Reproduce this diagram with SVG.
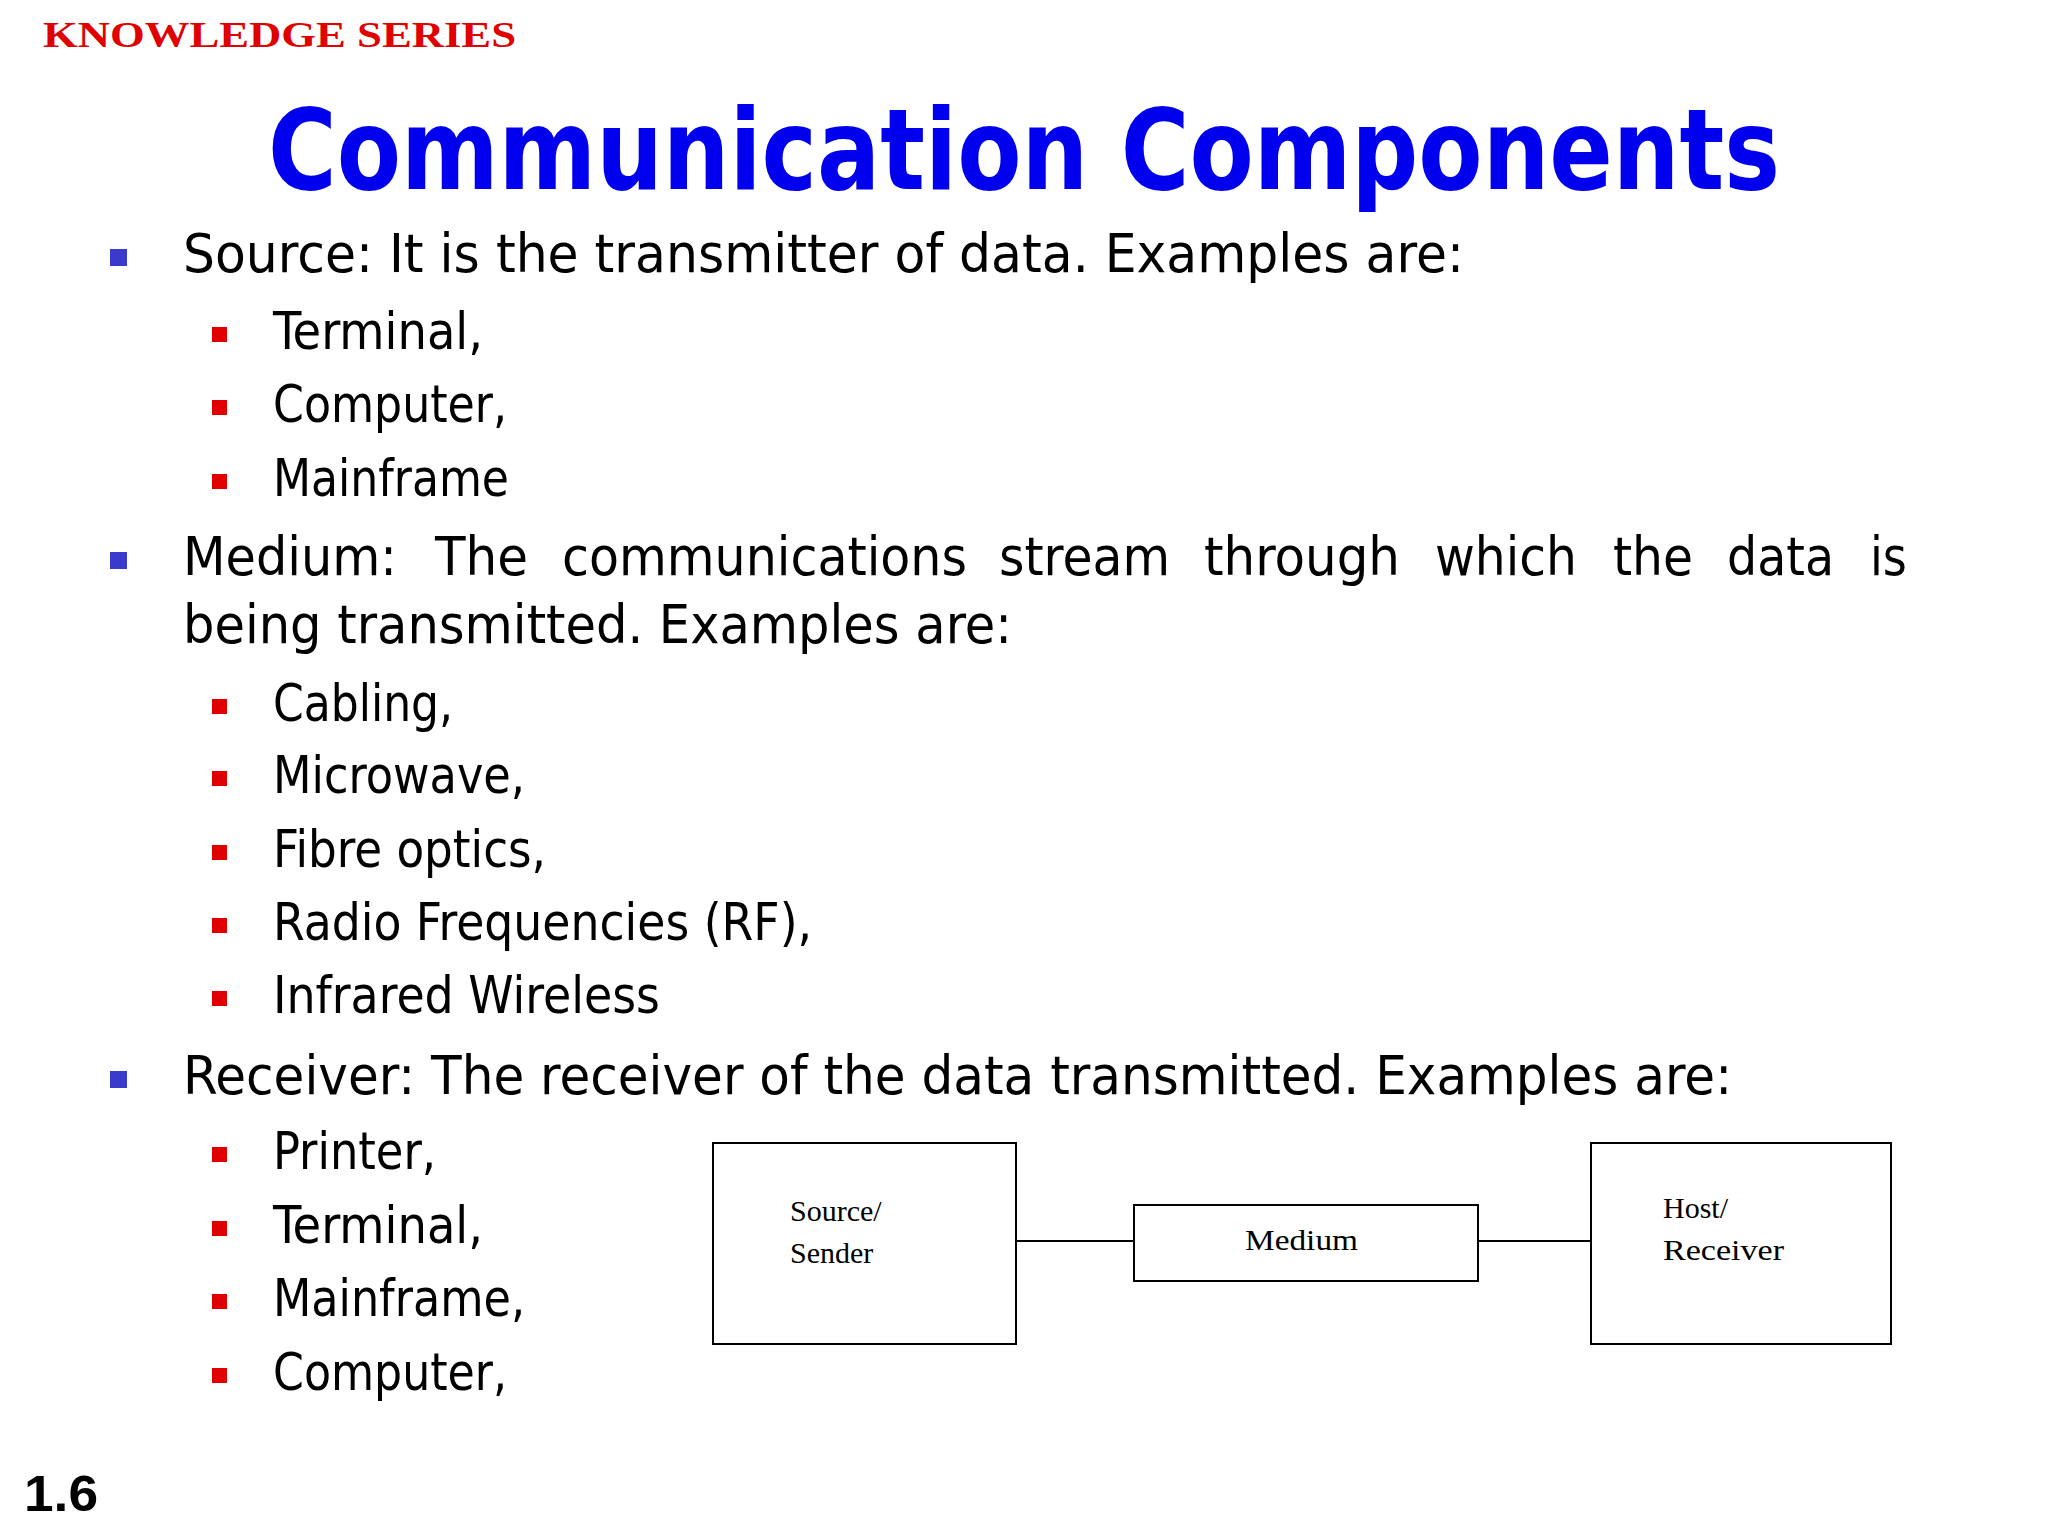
<svg xmlns="http://www.w3.org/2000/svg" width="2048" height="1536" viewBox="0 0 2048 1536">
<style>
.b{font-family:"DejaVu Sans Condensed","DejaVu Sans",sans-serif;font-size:54px;fill:#000}
.s{font-family:"DejaVu Sans Condensed","DejaVu Sans",sans-serif;font-size:52px;fill:#000}
.t{font-family:"Liberation Serif",serif;font-size:30px;fill:#000}
.bx{fill:none;stroke:#000;stroke-width:2}
.mb{fill:#3a3acc}
.rb{fill:#e00000}
</style>
<rect width="2048" height="1536" fill="#fff"/>
<text x="43" y="47" font-family="Liberation Serif,serif" font-weight="bold" font-size="36" fill="#e00000" textLength="473" lengthAdjust="spacingAndGlyphs">KNOWLEDGE SERIES</text>
<text x="268" y="189" font-family="DejaVu Sans,sans-serif" font-weight="bold" font-size="113" fill="#0000ee" textLength="1512" lengthAdjust="spacingAndGlyphs">Communication Components</text>
<g id="bullets">
<rect class="mb" x="110" y="249" width="17" height="17"/>
<rect class="mb" x="110" y="552" width="17" height="17"/>
<rect class="mb" x="110" y="1071" width="17" height="17"/>
<rect class="rb" x="212" y="327" width="15" height="15"/>
<rect class="rb" x="212" y="400" width="15" height="15"/>
<rect class="rb" x="212" y="474" width="15" height="15"/>
<rect class="rb" x="212" y="699" width="15" height="15"/>
<rect class="rb" x="212" y="771" width="15" height="15"/>
<rect class="rb" x="212" y="845" width="15" height="15"/>
<rect class="rb" x="212" y="918" width="15" height="15"/>
<rect class="rb" x="212" y="991" width="15" height="15"/>
<rect class="rb" x="212" y="1147" width="15" height="15"/>
<rect class="rb" x="212" y="1221" width="15" height="15"/>
<rect class="rb" x="212" y="1294" width="15" height="15"/>
<rect class="rb" x="212" y="1368" width="15" height="15"/>
</g>
<g id="text">
<text class="b" x="183" y="272" textLength="1281" lengthAdjust="spacingAndGlyphs">Source: It is the transmitter of data. Examples are:</text>
<text class="s" x="273" y="349" textLength="210" lengthAdjust="spacingAndGlyphs">Terminal,</text>
<text class="s" x="273" y="422" textLength="234" lengthAdjust="spacingAndGlyphs">Computer,</text>
<text class="s" x="273" y="496" textLength="236" lengthAdjust="spacingAndGlyphs">Mainframe</text>
<text class="b" x="183" y="575" textLength="214" lengthAdjust="spacingAndGlyphs">Medium:</text>
<text class="b" x="435" y="575" textLength="93" lengthAdjust="spacingAndGlyphs">The</text>
<text class="b" x="562" y="575" textLength="405" lengthAdjust="spacingAndGlyphs">communications</text>
<text class="b" x="999" y="575" textLength="171" lengthAdjust="spacingAndGlyphs">stream</text>
<text class="b" x="1204" y="575" textLength="196" lengthAdjust="spacingAndGlyphs">through</text>
<text class="b" x="1435" y="575" textLength="142" lengthAdjust="spacingAndGlyphs">which</text>
<text class="b" x="1613" y="575" textLength="80" lengthAdjust="spacingAndGlyphs">the</text>
<text class="b" x="1727" y="575" textLength="107" lengthAdjust="spacingAndGlyphs">data</text>
<text class="b" x="1870" y="575" textLength="37" lengthAdjust="spacingAndGlyphs">is</text>
<text class="b" x="183" y="643" textLength="829" lengthAdjust="spacingAndGlyphs">being transmitted. Examples are:</text>
<text class="s" x="273" y="721" textLength="180" lengthAdjust="spacingAndGlyphs">Cabling,</text>
<text class="s" x="273" y="793" textLength="252" lengthAdjust="spacingAndGlyphs">Microwave,</text>
<text class="s" x="273" y="867" textLength="273" lengthAdjust="spacingAndGlyphs">Fibre optics,</text>
<text class="s" x="273" y="940" textLength="539" lengthAdjust="spacingAndGlyphs">Radio Frequencies (RF),</text>
<text class="s" x="273" y="1013" textLength="387" lengthAdjust="spacingAndGlyphs">Infrared Wireless</text>
<text class="b" x="183" y="1094" textLength="1549" lengthAdjust="spacingAndGlyphs">Receiver: The receiver of the data transmitted. Examples are:</text>
<text class="s" x="273" y="1169" textLength="163" lengthAdjust="spacingAndGlyphs">Printer,</text>
<text class="s" x="273" y="1243" textLength="210" lengthAdjust="spacingAndGlyphs">Terminal,</text>
<text class="s" x="273" y="1316" textLength="252" lengthAdjust="spacingAndGlyphs">Mainframe,</text>
<text class="s" x="273" y="1390" textLength="234" lengthAdjust="spacingAndGlyphs">Computer,</text>
<text x="24" y="1511" font-family="Liberation Sans,sans-serif" font-weight="bold" font-size="50" fill="#000" textLength="74" lengthAdjust="spacingAndGlyphs">1.6</text>
</g>
<g id="connectors">
<line x1="1016" y1="1241" x2="1134" y2="1241" stroke="#000" stroke-width="2"/>
<line x1="1478" y1="1241" x2="1591" y2="1241" stroke="#000" stroke-width="2"/>
</g>
<g id="source">
<rect class="bx" x="713" y="1143" width="303" height="201"/>
<text class="t" x="790" y="1221">Source/</text>
<text class="t" x="790" y="1263">Sender</text>
</g>
<g id="medium">
<rect class="bx" x="1134" y="1205" width="344" height="76"/>
<text class="t" x="1245" y="1250" textLength="113" lengthAdjust="spacingAndGlyphs">Medium</text>
</g>
<g id="receiver">
<rect class="bx" x="1591" y="1143" width="300" height="201"/>
<text class="t" x="1663" y="1218">Host/</text>
<text class="t" x="1663" y="1260" textLength="121" lengthAdjust="spacingAndGlyphs">Receiver</text>
</g>
</svg>
